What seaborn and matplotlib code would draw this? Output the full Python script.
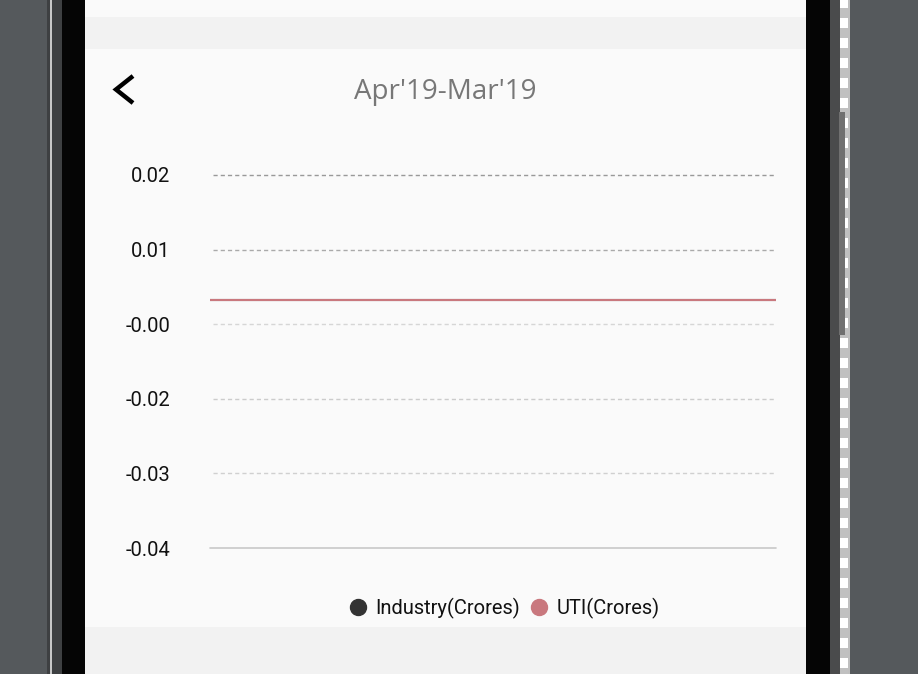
import numpy as np
import pandas as pd
import seaborn as sns
import matplotlib
matplotlib.use("Agg")
from matplotlib import pyplot as plt
from matplotlib.patches import Rectangle
from matplotlib.lines import Line2D

# data
months = ["Apr'19", "May'19", "Jun'19", "Jul'19", "Aug'19", "Sep'19",
          "Oct'19", "Nov'19", "Dec'19", "Jan'20", "Feb'20", "Mar'20"]
industry_crores = [0, 0, 0, 0, 0, 0, 0, 0, 0, 0, 0, 0]
uti_crores = [0, 0, 0, 0, 0, 0, 0, 0, 0, 0, 0, 0]
ytick_values = [0.0200, 0.0081, -0.0038, -0.0157, -0.0276, -0.0395]
ytick_labels = ["0.02", "0.01", "-0.00", "-0.02", "-0.03", "-0.04"]
title = "Apr'19-Mar'19"
series_names = ["Industry(Crores)", "UTI(Crores)"]
series_colors = ["#333333", "#c9787e"]

W, H = 918, 674

sns.set_theme(style="white")
plt.rcParams['font.family'] = ['Roboto', 'DejaVu Sans']
plt.rcParams['lines.scale_dashes'] = False

fig = plt.figure(figsize=(W / 100, H / 100), dpi=100)
fig.patch.set_facecolor("#55595c")


def px_rect(x0, y0, x1, y1, color, z=0):
    fig.add_artist(Rectangle((x0 / W, 1 - y1 / H), (x1 - x0) / W, (y1 - y0) / H,
                             transform=fig.transFigure, color=color, zorder=z, lw=0))


# phone frame
px_rect(47, 0, 62, H, "#3e4042")
px_rect(50, 0, 51.5, H, "#c8c8c8")
px_rect(62, 0, 85, H, "#050505")
px_rect(806, 0, 830, H, "#050505")
px_rect(830, 0, 840, H, "#4a4b4c")
px_rect(840, 0, 848, H, "#ffffff")
for yy in range(0, H, 20):
    px_rect(840, yy + 8, 848, yy + 18, "#c0c0c0")
px_rect(848, 0, 850, H, "#bfbfbf")
px_rect(839, 112, 845, 335, "#707070")
# screen
px_rect(85, 0, 806, H, "#f2f2f2")
px_rect(85, 0, 806, 17, "#fafafa")
px_rect(85, 49, 806, 627, "#fafafa")

# back chevron
fig.add_artist(Line2D([133 / W, 116 / W, 133 / W], [1 - 76 / H, 1 - 89.5 / H, 1 - 103 / H],
                      transform=fig.transFigure, color="black", lw=3.2,
                      solid_joinstyle="miter", solid_capstyle="butt"))
fig.text(445 / W, 1 - 92 / H, title, ha="center", va="center",
         fontsize=20, color="#777777", family=['Open Sans', 'DejaVu Sans'])

ax = fig.add_axes([210 / W, 1 - 548 / H, (776 - 210) / W, (548 - 175) / H])
ax.set_facecolor("none")

df = pd.DataFrame({"month": months * 2,
                   "value": industry_crores + uti_crores,
                   "series": [series_names[0]] * len(months) + [series_names[1]] * len(months)})
df["x"] = list(range(len(months))) * 2

grid_colors = ["#999999", "#aaaaaa", "#d6d6d6", "#cccccc", "#d0d0d0"]
for v, c in zip(ytick_values[:-1], grid_colors):
    ax.axhline(v, xmin=3 / 566, xmax=1, color=c, lw=1, dashes=(3.0, 2.2), zorder=1, clip_on=False)
ax.axhline(ytick_values[-1], color="#c8c8c8", lw=1.2, zorder=1, clip_on=False)

sns.lineplot(data=df, x="x", y="value", hue="series", palette=series_colors,
             linewidth=1.5, ax=ax, legend=False, zorder=3)

ax.set_xlim(0, len(months) - 1)
ax.set_ylim(ytick_values[-1], ytick_values[0])
ax.set_yticks(ytick_values)
ax.set_yticklabels(ytick_labels)
ax.set_xticks([])
ax.tick_params(axis="y", length=0, pad=28.8, labelsize=14.5, labelcolor="#111111")
ax.set_xlabel("")
ax.set_ylabel("")
for s in ax.spines.values():
    s.set_visible(False)

handles = [Line2D([], [], marker="o", ls="", color=c, markersize=11.5) for c in series_colors]
fig.legend(handles, series_names, loc="center", bbox_to_anchor=(504 / W, 1 - 608 / H),
           ncol=2, frameon=False, fontsize=14.5, handletextpad=0.35, columnspacing=0.45,
           handlelength=1.0, labelcolor="#111111")

fig.savefig("out.png", dpi=100, facecolor=fig.get_facecolor())
